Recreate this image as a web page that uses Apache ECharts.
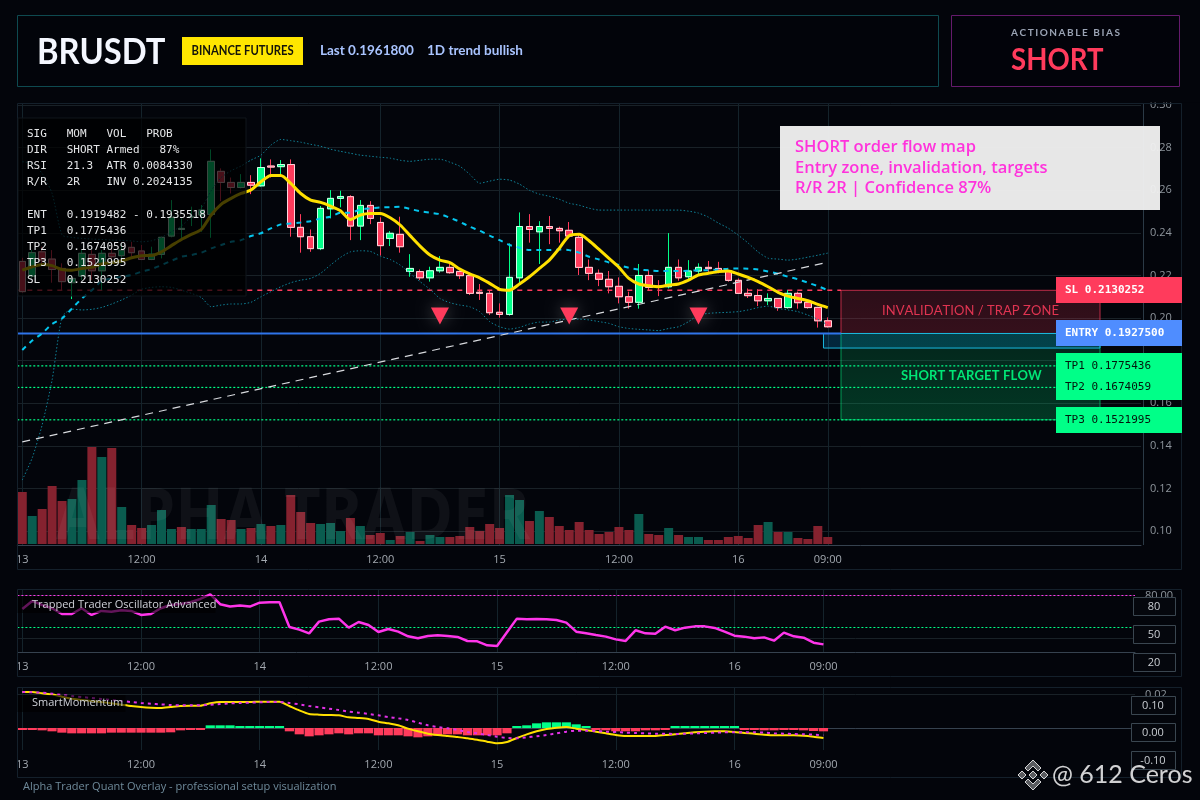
<!DOCTYPE html>
<html><head><meta charset="utf-8">
<style>html,body{margin:0;padding:0;background:#03050b}#c{width:1200px;height:800px}</style>
<script src="https://cdn.jsdelivr.net/npm/echarts@6/dist/echarts.min.js"></script>
</head><body><div id="c"></div>
<script>
const hourLabels = {0:'13',12:'12:00',24:'14',36:'12:00',48:'15',60:'12:00',72:'16',81:'09:00'};
const futureBars = 31;
const candles = [
[.2266,.2124,.2119,.2283],[.2197,.2307,.2189,.2319],[.2311,.2272,.2249,.2335],[.2277,.2228,.2166,.2319],[.2233,.2171,.2131,.2257],
[.2166,.2186,.2089,.2194],[.2197,.2304,.2178,.2319],[.2299,.2222,.2178,.2319],[.2222,.2304,.2131,.2319],[.2304,.2288,.2257,.2327],
[.2293,.2319,.2257,.2351],[.2332,.2307,.2280,.2358],[.2315,.2275,.2272,.2343],[.2275,.2300,.2272,.2335],[.2299,.2379,.2280,.2382],
[.2385,.2473,.2379,.2554],[.2416,.2421,.2374,.2468],[.2473,.2476,.2432,.2523],[.2484,.2507,.2405,.2531],[.2487,.2736,.2377,.2792],
[.2689,.2637,.2549,.2703],[.2637,.2613,.2585,.2660],[.2613,.2637,.2609,.2676],[.2637,.2624,.2582,.2671],[.2621,.2707,.2617,.2750],
[.2714,.2709,.2660,.2745],[.2711,.2721,.2667,.2742],[.2721,.2426,.2382,.2745],[.2426,.2382,.2307,.2488],[.2382,.2326,.2311,.2416],
[.2326,.2515,.2319,.2526],[.2513,.2562,.2468,.2601],[.2562,.2571,.2520,.2598],[.2570,.2432,.2366,.2577],[.2432,.2529,.2366,.2554],
[.2529,.2468,.2441,.2549],[.2449,.2340,.2293,.2473],[.2374,.2398,.2338,.2408],[.2393,.2335,.2307,.2476],[.2219,.2233,.2194,.2300],
[.2218,.2189,.2178,.2228],[.2189,.2222,.2171,.2241],[.2222,.2238,.2213,.2291],[.2238,.2213,.2208,.2254],[.2219,.2199,.2183,.2225],
[.2199,.2116,.2108,.2210],[.2121,.2116,.2085,.2160],[.2116,.2025,.2014,.2128],[.2027,.2017,.2002,.2069],[.2017,.2191,.2011,.2351],
[.2189,.2430,.2163,.2496],[.2430,.2416,.2354,.2488],[.2405,.2430,.2254,.2455],[.2430,.2421,.2347,.2479],[.2421,.2410,.2354,.2429],
[.2412,.2385,.2374,.2451],[.2379,.2238,.2202,.2390],[.2238,.2210,.2178,.2275],[.2210,.2182,.2150,.2228],[.2182,.2147,.2116,.2221],
[.2149,.2100,.2069,.2191],[.2100,.2074,.2044,.2124],[.2074,.2200,.2044,.2254],[.2200,.2144,.2131,.2225],[.2150,.2144,.2103,.2178],
[.2147,.2238,.2139,.2399],[.2238,.2189,.2175,.2275],[.2194,.2221,.2175,.2272],[.2221,.2238,.2202,.2257],[.2238,.2232,.2210,.2268],
[.2233,.2222,.2210,.2264],[.2221,.2177,.2171,.2225],[.2177,.2116,.2113,.2186],[.2116,.2105,.2094,.2139],[.2106,.2081,.2056,.2135],
[.2081,.2092,.2061,.2116],[.2092,.2049,.2034,.2092],[.2049,.2116,.2044,.2131],[.2116,.2072,.2044,.2124],[.2074,.2049,.2044,.2077],
[.2050,.1987,.1955,.2053],[.1987,.1959,.1955,.2003]];
const trendMa = [.2225,.2241,.2252,.2246,.2228,.2225,.2233,.2238,.2254,.2260,.2268,.2283,.2293,.2294,.2311,.2340,.2369,.2393,.2416,.2484,.2534,.2562,.2585,.2601,.2640,.2670,.2670,.2632,.2585,.2554,.2543,.2526,.2504,.2463,.2484,.2491,.2491,.2471,.2437,.2387,.2338,.2296,.2272,.2260,.2230,.2207,.2189,.2163,.2135,.2131,.2160,.2194,.2233,.2272,.2327,.2387,.2393,.2363,.2322,.2280,.2238,.2186,.2160,.2152,.2147,.2155,.2160,.2178,.2202,.2210,.2218,.2221,.2207,.2191,.2171,.2147,.2121,.2103,.2092,.2081,.2064,.2049];
const slowMa = [.1850,.1894,.1928,.1972,.1998,.2045,.2092,.2131,.2174,.2186,.2194,.2202,.2218,.2230,.2249,.2269,.2288,.2296,.2307,.2327,.2343,.2358,.2366,.2385,.2398,.2421,.2440,.2444,.2449,.2455,.2468,.2476,.2495,.2495,.2510,.2515,.2520,.2521,.2523,.2512,.2502,.2495,.2488,.2471,.2452,.2429,.2410,.2387,.2366,.2343,.2330,.2319,.2319,.2319,.2322,.2319,.2307,.2288,.2275,.2261,.2249,.2236,.2228,.2224,.2221,.2221,.2221,.2222,.2224,.2225,.2228,.2232,.2233,.2232,.2228,.2219,.2208,.2194,.2182,.2166,.2150,.2131];
const upperBand = [.2734,.2726,.2679,.2585,.2390,.2379,.2374,.2371,.2369,.2366,.2365,.2362,.2358,.2363,.2379,.2405,.2432,.2476,.2515,.2598,.2660,.2692,.2714,.2742,.2765,.2812,.2839,.2833,.2826,.2816,.2807,.2793,.2783,.2774,.2765,.2760,.2755,.2751,.2741,.2736,.2741,.2746,.2746,.2732,.2713,.2675,.2633,.2643,.2652,.2648,.2629,.2600,.2582,.2572,.2558,.2539,.2530,.2516,.2507,.2507,.2507,.2507,.2507,.2507,.2507,.2507,.2507,.2502,.2493,.2474,.2446,.2422,.2389,.2352,.2310,.2281,.2277,.2272,.2277,.2286,.2295,.2305];
const lowerBand = [.1239,.1343,.1498,.1709,.2005,.2042,.2038,.2041,.2050,.2066,.2085,.2108,.2135,.2144,.2147,.2144,.2131,.2116,.2097,.2053,.2061,.2066,.2066,.2074,.2100,.2124,.2147,.2166,.2178,.2186,.2210,.2249,.2285,.2311,.2316,.2313,.2291,.2275,.2249,.2210,.2171,.2135,.2092,.2072,.2061,.2053,.2030,.1983,.1959,.1948,.1956,.1972,.1981,.1981,.1991,.1995,.1995,.1991,.1983,.1975,.1959,.1951,.1947,.1944,.1941,.1951,.1959,.1983,.2014,.2022,.2025,.2027,.2030,.2038,.2049,.2056,.2045,.2038,.2030,.2014,.1994,.1967];
const volumes = [52,28,35,58,43,45,64,97,87,96,37,19,16,19,34,15,17,15,15,39,25,24,15,16,20,18,19,49,32,21,20,21,13,26,18,9,11,4,8,12,3,9,7,7,8,17,13,20,16,49,44,23,33,27,18,14,22,14,10,12,17,14,30,10,9,16,9,7,7,4,4,7,8,6,19,22,12,12,6,5,18,7];
const volumeUp = [0,1,0,0,0,1,1,0,1,0,1,0,0,1,1,1,0,1,1,1,0,0,1,0,1,0,1,0,0,0,1,1,1,0,1,0,0,1,0,1,0,1,1,0,0,0,0,0,0,1,1,0,1,0,0,0,0,0,0,0,0,0,1,0,0,1,0,1,1,0,0,0,0,0,0,1,0,1,0,0,0,0];
const oscillator = [67.4,74.9,71.1,68,62.6,62.6,68,61.7,65.5,64.8,66.1,65.5,61.7,62.6,68,71.1,72.1,73.7,76.8,81.2,71.8,69.6,70.5,69.6,73.3,73.7,73.7,50.3,47.8,44.3,55.4,57.6,58.2,49.7,55,52.2,45.6,48.4,45.9,41.5,39.6,41.8,42.4,41.8,40.9,37.1,36.8,33,32.3,45.3,58.2,57.6,57.9,57.6,56.9,54.4,45.9,44.3,42.7,41.2,38.6,37.1,47.2,44.3,44,50.6,47.2,49.7,50.9,50.9,49.4,45.9,42.1,41.2,39.6,40.5,37.4,45,41.5,40.2,35.5,33.9];
// momentum arrays in thousandths
const momentumFast = [21.6,21.6,20.8,20.2,18.8,17.6,16.8,16.2,15.6,14.8,14,13.2,12.6,12.2,12,12.6,13.2,13.4,13.4,14.8,15.6,15.6,15.6,15.6,15.8,15.8,15.8,13.2,10.6,8.4,8,7.8,7.6,6.4,6,5.4,3.8,2.8,1.6,-0.4,-2,-3.4,-4.2,-4.8,-5.4,-6.2,-7,-8.2,-9.2,-8.4,-6,-3.8,-2,-0.6,0.2,0.6,-0.4,-1.2,-2.2,-3.2,-4.2,-4.8,-4.8,-4.8,-4.8,-4.2,-3.8,-3.2,-2.6,-2.2,-2,-2,-2.4,-3,-3.4,-4,-4.4,-4.4,-4.4,-4.6,-5.2,-6];
const momentumSlow = [21.6,21.4,21.2,20.6,19.8,19.2,18.6,18,17.4,16.8,16.2,15.6,15,14.6,14.2,13.8,13.6,13.6,13.6,14,14.4,14.8,15,15.2,15.4,15.6,15.6,15,14.2,13.2,12.4,11.6,10.8,9.8,9.2,8.4,7.6,6.6,5.8,4.8,3.2,1.6,0.6,-0.2,-1.2,-2.4,-3.2,-4.2,-5.2,-6,-6.2,-5.6,-5,-4.2,-3.2,-2.2,-1.6,-1.6,-1.8,-2.2,-2.4,-2.8,-3,-3.2,-3.4,-3.4,-3.6,-3.4,-3.2,-3,-2.8,-2.6,-2.6,-2.6,-2.6,-2.8,-3.2,-3.4,-3.6,-3.8,-4,-4.4];
const momentumHist = [-0.8,-0.8,-1.4,-2,-2.8,-3.2,-3.2,-3.2,-3.2,-2.8,-2.8,-2.8,-2.8,-2.8,-2.8,-2.6,-1.4,-0.8,-0.8,1.6,1.6,1.6,0.8,0.8,0.8,0.8,0.4,-2,-3.8,-5,-4.4,-3.8,-3.2,-3.8,-3.2,-3.2,-4.4,-4.4,-4.4,-5,-5.6,-5,-4.4,-3.8,-3.8,-4.4,-4.4,-4.4,-4.4,-3.2,0.2,1.6,2.8,3.4,3.4,3.4,2.2,1,-0.4,-1.4,-2,-2,-2,-1.4,-1.4,-0.8,0.4,0.4,1,1,1,1,0.4,-0.8,-0.8,-1.4,-1.4,-0.8,-0.8,-1.4,-1.8,-2];
const priceTicks = [0.10,0.12,0.14,0.16,0.18,0.20,0.22,0.24,0.26,0.28,0.30];
const signalBars = [42,55,68];
const signalPrice = 0.2009;
const trendFrom = 0.1418, trendTo = 0.2262;
const sl = 0.2130252, entry = 0.19275, tp1 = 0.1775436, tp2 = 0.1674059, tp3 = 0.1521995, entryLow = 0.1859;
const oscLevels = [80,50];
const infoLines = ['SIG   MOM   VOL   PROB','DIR   SHORT Armed   87%','RSI   21.3  ATR 0.0084330','R/R   2R    INV 0.2024135','','ENT   0.1919482 - 0.1935518','TP1   0.1775436','TP2   0.1674059','TP3   0.1521995','SL    0.2130252'];

const RED='#ff3b5c', GREEN='#00ff88', SANS='"Open Sans","Noto Sans",sans-serif', HEAD='Lato,"Open Sans",sans-serif', MONO='"DejaVu Sans Mono",monospace';
const n = candles.length;
const categories = Array.from({length:n+futureBars},(_,i)=>hourLabels[i]||'');
const labelled = (i,v)=>v!=='';
const xCat = (grid,showLabel)=>({type:'category',gridIndex:grid,data:categories,boundaryGap:true,
  axisLine:{show:showLabel,lineStyle:{color:'#36424f'}},axisTick:{show:false},
  axisLabel:{show:showLabel,interval:labelled,color:'#a3a9b0',fontSize:11,fontFamily:SANS,margin:9},
  splitLine:{show:showLabel,alignWithLabel:true,interval:labelled,lineStyle:{color:'#14232b',width:1}}});
const xVal = (grid)=>({type:'value',gridIndex:grid,min:-0.5,max:n+futureBars-0.5,show:false});
const lineS = (name,data,x,y,extra)=>Object.assign({name,type:'line',data,xAxisIndex:x,yAxisIndex:y,showSymbol:false,silent:true},extra);
const level = (v,to,color,type,width)=>lineS('level',[[-0.5,v],[to,v]],1,0,{lineStyle:{color,type,width},z:4});
const zone = (x0,x1,y0,y1,stops,stroke,z)=>({silent:true,z:z||3,itemStyle:{color:{type:'linear',x:0,y:0,x2:0,y2:1,colorStops:stops},borderColor:stroke,borderWidth:1},
  data:[[{coord:[x0,y0]},{coord:[x1,y1]}]]});
const plotLeft=17.3, plotWidth=1123.7;
const zoneL=82.33, zoneR=108.38, entryL=80.57, tagX=103.95;

const opt = {
  backgroundColor:'#03050b',animation:false,
  grid:[
    {left:plotLeft,top:103,width:plotWidth,height:442},
    {left:plotLeft,top:444,width:plotWidth,height:100},
    {left:17.4,top:589,width:1117.6,height:63.3},
    {left:17.4,top:687,width:1117.6,height:63}],
  xAxis:[xCat(0,true),xVal(0),xCat(1,false),xCat(2,true),xCat(3,true)],
  yAxis:[
    {type:'value',gridIndex:0,position:'right',min:0.0934,max:0.301,
      axisLine:{show:false},axisTick:{show:false,customValues:priceTicks},
      axisLabel:{color:'#8e959c',fontSize:11,fontFamily:SANS,margin:9,customValues:priceTicks,formatter:v=>v.toFixed(2)},
      splitLine:{show:true,lineStyle:{color:'#192127',width:1}}},
    {type:'value',gridIndex:1,min:0,max:100,show:false},
    {type:'value',gridIndex:2,position:'right',min:26.4,max:86.2,
      axisLine:{show:false},axisTick:{show:false,customValues:[40,80]},
      axisLabel:{color:'#8e959c',fontSize:11,fontFamily:SANS,margin:10,customValues:[40,80],formatter:v=>v.toFixed(2)},
      splitLine:{show:true,lineStyle:{color:'#192127'}}},
    {type:'value',gridIndex:3,position:'right',min:-13.2,max:24.6,
      axisLine:{show:false},axisTick:{show:false,customValues:[0,20]},
      axisLabel:{color:'#8e959c',fontSize:11,fontFamily:SANS,margin:10,customValues:[0,20],formatter:v=>(v/1000).toFixed(2)},
      splitLine:{show:true,lineStyle:{color:'#192127'}}}],
  series:[
    {type:'bar',xAxisIndex:2,yAxisIndex:1,barWidth:9,silent:true,z:1,
      data:volumes.map((v,i)=>({value:v,itemStyle:{color:volumeUp[i]?'#0a5c4f':'#85222f'}}))},
    lineS('zones',[],1,0,{markArea:zone(zoneL,zoneR,sl,entry,[{offset:0,color:'rgba(255,59,92,.16)'},{offset:1,color:'rgba(255,59,92,.2)'}],'rgba(255,59,92,.7)')}),
    lineS('zones2',[],1,0,{markArea:zone(zoneL,zoneR,entry,tp3,[{offset:0,color:'rgba(0,255,136,.13)'},{offset:1,color:'rgba(0,255,136,.2)'}],'rgba(0,255,136,.55)')}),
    lineS('zones3',[],1,0,{markArea:zone(entryL,zoneR,entry,entryLow,[{offset:0,color:'rgba(0,170,255,.2)'},{offset:1,color:'rgba(0,170,255,.2)'}],'#19b8e0',4)}),
    level(sl,zoneL,RED,[5,5],1.6),
    level(tp1,tagX,GREEN,[2,2],1.2),
    level(tp2,tagX,GREEN,[2,2],1.2),
    level(tp3,tagX,GREEN,[2,2],1.2),
    level(entry,zoneL,'#2f74ea','solid',2),
    {type:'candlestick',xAxisIndex:0,yAxisIndex:0,barWidth:7,silent:true,z:5,data:candles,
      itemStyle:{color:GREEN,color0:RED,borderColor:GREEN,borderColor0:RED,borderWidth:1}},
    {type:'candlestick',xAxisIndex:0,yAxisIndex:0,barWidth:7,silent:true,z:5,
      data:candles.map(([o,c])=>[o,c,Math.min(o,c),Math.max(o,c)]),
      itemStyle:{color:GREEN,color0:RED,borderColor:'#d2ffe9',borderColor0:'#ffd6dd',borderWidth:1}},
    lineS('upper',upperBand,0,0,{z:6,smooth:.2,lineStyle:{color:'#0f8096',width:1,type:[1.5,2]}}),
    lineS('lower',lowerBand,0,0,{z:6,smooth:.2,lineStyle:{color:'#0f8096',width:1,type:[1.5,2]}}),
    lineS('slow',slowMa,0,0,{z:6,smooth:.2,lineStyle:{color:'#05c6ee',width:2,type:[5,5]}}),
    lineS('trend',[[0,trendFrom],[81,trendTo]],1,0,{z:6,lineStyle:{color:'#d8dade',width:1.2,type:[8,6]}}),
    lineS('ma',trendMa,0,0,{z:7,smooth:.25,lineStyle:{color:'#ffe000',width:3}}),
    {type:'scatter',xAxisIndex:1,yAxisIndex:0,symbol:'triangle',symbolRotate:180,symbolSize:[18,17],silent:true,z:8,
      data:signalBars.map(b=>[b,signalPrice]),itemStyle:{color:RED,opacity:1,shadowBlur:16,shadowColor:'rgba(255,255,255,.3)'}},
    lineS('osc',oscillator,3,2,{z:5,lineStyle:{color:'#ff35ea',width:2.5},
      markLine:{silent:true,symbol:'none',label:{show:false},z:4,data:[
        {yAxis:oscLevels[0],lineStyle:{color:'#ff35ea',type:[2,2],width:1.2}},
        {yAxis:oscLevels[1],lineStyle:{color:GREEN,type:[2,2],width:1.2}}]}}),
    {type:'bar',xAxisIndex:4,yAxisIndex:3,barWidth:9.2,barMinHeight:2,silent:true,z:3,
      data:momentumHist.map(v=>({value:v,itemStyle:{color:v>=0?GREEN:RED}}))},
    lineS('fast',momentumFast,4,3,{z:5,smooth:.2,lineStyle:{color:'#ffe000',width:2}}),
    lineS('slowM',momentumSlow,4,3,{z:5,smooth:.2,lineStyle:{color:'#e231e6',width:2,type:[3,4]}})
  ],
  graphic:{elements:[]}
};
const G=[];
const rect=(x,y,w,h,fill,stroke,z)=>G.push({type:'rect',z:z||100,silent:true,shape:{x,y,width:w,height:h},style:{fill:fill||'none',stroke:stroke||'none',lineWidth:1}});
const text=(x,y,t,fill,font,extra,z)=>G.push({type:'text',z:z||102,silent:true,style:Object.assign({x,y,text:t,fill,font,textVerticalAlign:'middle',textAlign:'left'},extra||{})});
const narrow=(x,y,t,fill,font,sx,extra)=>G.push({type:'text',z:102,silent:true,x,y,scaleX:sx,style:Object.assign({x:0,y:0,text:t,fill,font,textVerticalAlign:'middle',textAlign:'left'},extra||{})});
const ctx=document.createElement('canvas').getContext('2d');
const spaced=(x,y,t,fill,font,gap,extra)=>{ctx.font=font;let cx=x;for(const ch of t){if(ch!==' ')text(cx,y,ch,fill,font,extra);cx+=ctx.measureText(ch).width+gap;}};
// panel frames
rect(1144,88,56,14.5,'#03050b');
rect(1143.5,103,0.01,442,null,'#2b3a46',90);
rect(17.5,15.5,921,71,'#02040a','#0e4a50',0);
rect(951.5,15.5,228,71,'#02030a','#651a6c',0);
rect(17.5,103.5,1164,466,null,'#14202b',90);
rect(17.5,589.5,1164,87,null,'#14202b',90);
rect(17.5,687.5,1164,90,null,'#14202b',90);
// watermark
G.push({type:'text',z:95,silent:true,x:56,y:518,scaleX:.88,style:{x:0,y:0,text:'ALPHA TRADER',fill:'rgba(255,255,255,.05)',font:'bold 72px '+SANS,textVerticalAlign:'middle'}});
// header
narrow(37,52,'BRUSDT','#f4f7ff','bold 36px '+HEAD,.91,{shadowBlur:12,shadowColor:'rgba(200,220,255,.5)'});
rect(182,37,121,28,'#ffe600');
narrow(191.5,51,'BINANCE FUTURES','#14140a','bold 12.5px '+HEAD,.9);
text(320,51,'Last 0.1961800','#a9c4ff','bold 13.5px '+HEAD);
text(427,51,'1D trend bullish','#a9c4ff','bold 13.5px '+HEAD);
spaced(1011,33,'ACTIONABLE BIAS','#9aa3b4','bold 10px '+HEAD,1.55);
narrow(1011,60,'SHORT',RED,'bold 31px '+HEAD,.89,{shadowBlur:14,shadowColor:'rgba(255,59,92,.55)'});
// info panel
rect(18,118,228,178,'rgba(0,0,0,.72)','#11171d');
infoLines.forEach((l,i)=>text(27,134+i*16.2,l,'#e4e6e8','11px '+MONO));
// notes box
rect(780,126,380,84,'rgba(240,240,240,.96)');
['SHORT order flow map','Entry zone, invalidation, targets','R/R 2R | Confidence 87%'].forEach((l,i)=>text(795,147.5+i*20.5,l,'#ff32dc','600 16.5px '+SANS));
// zone labels
spaced(882,311,'INVALIDATION / TRAP ZONE','rgba(255,59,92,.85)','13px '+HEAD,0.05);
spaced(901,376,'SHORT TARGET FLOW','#00e676','bold 13px '+HEAD,0.15);
// price tags
rect(1056,277,126,26,RED); text(1065,290.5,'SL 0.2130252','#fff','bold 11px '+MONO);
rect(1056,320,126,26,'#4f8dff'); text(1065,333,'ENTRY 0.1927500','#fff','bold 11px '+MONO);
rect(1056,353,126,47,GREEN); text(1065,366,'TP1 0.1775436','#03150c','11px '+MONO); text(1065,387.5,'TP2 0.1674059','#03150c','11px '+MONO);
rect(1056,407,126,26,GREEN); text(1065,420,'TP3 0.1521995','#03150c','11px '+MONO);
// oscillator titles
rect(17.5,596,198,17,'rgba(0,0,0,.62)');
text(32,605,'Trapped Trader Oscillator Advanced','#cfd1d8','11px '+SANS);
rect(17.5,695,108,17,'rgba(0,0,0,.62)');
text(32,703,'SmartMomentum','#cfd1d8','11px '+SANS);
// value boxes
[[1133,597,42,'80'],[1133,625,42,'50'],[1133,653,42,'20'],[1131,696,44,'0.10'],[1131,723,44,'0.00'],[1131,751,44,'-0.10']].forEach(b=>{
  rect(b[0]+.5,b[1]+.5,b[2],18,'#05070d','#3a4650');
  text(b[0]+b[2]/2,b[1]+9.5,b[3],'#c9cdd2','11px '+SANS,{textAlign:'center'});
});
text(23,787,'Alpha Trader Quant Overlay - professional setup visualization','#6f8a9a','11px '+SANS);
// attribution mark
[[[1033,760],[1041,768],[1038,771],[1033,766],[1028,771],[1025,768]],[[1033,790],[1041,782],[1038,779],[1033,784],[1028,779],[1025,782]],
 [[1033,771],[1037,775],[1033,779],[1029,775]],[[1022,771],[1026,775],[1022,779],[1018,775]],[[1044,771],[1048,775],[1044,779],[1040,775]]]
 .forEach(p=>G.push({type:'polygon',z:103,silent:true,shape:{points:p},style:{fill:'rgba(255,255,255,.35)',stroke:'rgba(255,255,255,.8)',lineWidth:1}}));
text(1052,775,'@ 612 Ceros','rgba(255,255,255,.82)','25px '+HEAD);
opt.graphic.elements=G;
const chart=echarts.init(document.getElementById('c'),null,{renderer:'canvas',width:1200,height:800});
chart.setOption(opt);
</script></body></html>
